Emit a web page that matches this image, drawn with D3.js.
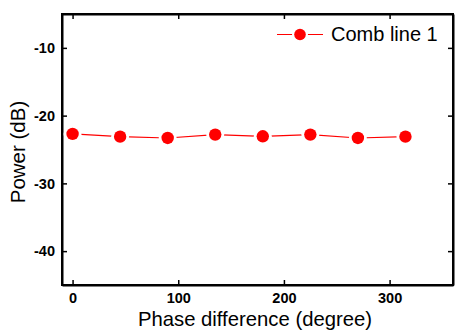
<!DOCTYPE html>
<html><head><meta charset="utf-8">
<script src="https://cdn.jsdelivr.net/npm/d3@7"></script>
<style>html,body{margin:0;padding:0;background:#fff;}</style>
</head><body>
<svg id="c" width="474" height="334"></svg>
<script>
const phases = [0, 45, 90, 135, 180, 225, 270, 315];
const power = [-22.7, -23.1, -23.3, -22.8, -23.05, -22.8, -23.3, -23.1];
const xTicks = [0, 100, 200, 300];
const yTicks = [-10, -20, -30, -40];
const seriesName = "Comb line 1";

const svg = d3.select("#c");
const L = 62, R = 453, T = 14, B = 285;
const x = d3.scaleLinear().domain([-10, 360]).range([L, R]);
const y = d3.scaleLinear().domain([-45, -5]).range([B, T]);
const font = "'Liberation Sans', Arial, sans-serif";
const fmt = d => String(d);

const ax = (g) => g.selectAll("path").attr("stroke-width", 2);
const lbl = g => g.selectAll("text").attr("font-family", font).attr("font-weight", "bold").attr("font-size", 14.5).attr("fill", "#000");
svg.append("g").attr("transform", `translate(0,${B})`)
  .call(d3.axisBottom(x).tickValues(xTicks).tickSizeInner(-5).tickSizeOuter(0).tickPadding(8).tickFormat(fmt))
  .call(ax).call(lbl);
svg.append("g").attr("transform", `translate(0,${T})`)
  .call(d3.axisTop(x).tickValues(xTicks).tickSizeInner(-5).tickSizeOuter(0).tickFormat(""))
  .call(ax);
svg.append("g").attr("transform", `translate(${L},0)`)
  .call(d3.axisLeft(y).tickValues(yTicks).tickSizeInner(-5).tickSizeOuter(0).tickPadding(7).tickFormat(fmt))
  .call(ax).call(lbl);
svg.append("g").attr("transform", `translate(${R},0)`)
  .call(d3.axisRight(y).tickValues(yTicks).tickSizeInner(-5).tickSizeOuter(0).tickFormat(""))
  .call(ax);
svg.selectAll(".tick line").attr("stroke-width", 1.5).attr("stroke", "#000");
svg.append("rect").attr("x", L).attr("y", T).attr("width", R - L).attr("height", B - T)
  .attr("fill", "none").attr("stroke", "#000").attr("stroke-width", 2);

// line + markers (with white halo gap)
const line = d3.line().x((d, i) => x(phases[i])).y(d => y(d));
svg.append("path").datum(power).attr("d", line).attr("fill", "none").attr("stroke", "#ff0000").attr("stroke-width", 1.2);
svg.selectAll("circle.halo").data(power).enter().append("circle").attr("class", "halo")
  .attr("cx", (d, i) => x(phases[i])).attr("cy", d => y(d)).attr("r", 9).attr("fill", "#fff");
svg.selectAll("circle.pt").data(power).enter().append("circle").attr("class", "pt")
  .attr("cx", (d, i) => x(phases[i])).attr("cy", d => y(d)).attr("r", 6.2).attr("fill", "#ff0000");

// axis titles
svg.append("text").attr("x", 255).attr("y", 325.5).attr("text-anchor", "middle")
  .attr("font-family", font).attr("font-size", 20.3).attr("fill", "#000").text("Phase difference (degree)");
svg.append("text").attr("transform", `translate(25,152) rotate(-90)`).attr("text-anchor", "middle")
  .attr("font-family", font).attr("font-size", 20.5).attr("fill", "#000").text("Power (dB)");

// legend
const ly = 34.5;
svg.append("line").attr("x1", 277).attr("x2", 323).attr("y1", ly).attr("y2", ly).attr("stroke", "#ff0000").attr("stroke-width", 1.2);
svg.append("circle").attr("cx", 300).attr("cy", ly).attr("r", 8).attr("fill", "#fff");
svg.append("circle").attr("cx", 300).attr("cy", ly).attr("r", 5.8).attr("fill", "#ff0000");
svg.append("text").attr("x", 331).attr("y", 41).attr("font-family", font).attr("font-size", 20).attr("fill", "#000").text(seriesName);
</script>
</body></html>
